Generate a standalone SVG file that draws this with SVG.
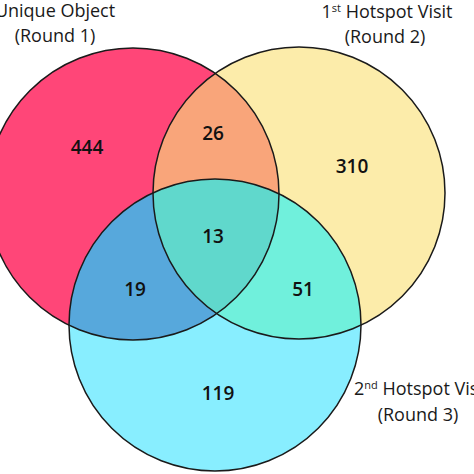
<svg xmlns="http://www.w3.org/2000/svg" width="474" height="474" viewBox="0 0 474 474">
<style>
.lbl{font-family:"Open Sans","Liberation Sans",sans-serif;font-size:18px;fill:#1a1a1a;text-anchor:middle}
.num{font-family:"Open Sans","Liberation Sans",sans-serif;font-size:19px;font-weight:600;fill:#111;text-anchor:middle}
.edge{fill:none;stroke:#1a1a1a;stroke-width:1.5}
</style>
<defs>
<clipPath id="cY"><circle cx="299" cy="193" r="146"/></clipPath>
<clipPath id="cC"><circle cx="215" cy="325" r="146"/></clipPath>
</defs>
<rect width="474" height="474" fill="#fff"/>
<g id="set-round1"><circle cx="133" cy="194" r="146" fill="#FF4678"/></g>
<g id="set-round2"><circle cx="299" cy="193" r="146" fill="#FCECAA"/></g>
<g id="set-round3"><circle cx="215" cy="325" r="146" fill="#88EEFF"/></g>
<g id="overlaps">
<circle cx="133" cy="194" r="146" fill="#F9A57A" clip-path="url(#cY)"/>
<circle cx="133" cy="194" r="146" fill="#57A8DC" clip-path="url(#cC)"/>
<circle cx="299" cy="193" r="146" fill="#70F0DC" clip-path="url(#cC)"/>
<g clip-path="url(#cC)"><circle cx="133" cy="194" r="146" fill="#60D8CC" clip-path="url(#cY)"/></g>
</g>
<g id="edges">
<circle class="edge" cx="133" cy="194" r="146"/>
<circle class="edge" cx="299" cy="193" r="146"/>
<circle class="edge" cx="215" cy="325" r="146"/>
</g>
<g id="labels">
<text class="lbl" x="55" y="17">Unique Object</text>
<text class="lbl" x="55" y="42">(Round 1)</text>
<text class="lbl" x="387" y="18">1<tspan font-size="11" dy="-6">st</tspan><tspan dy="6"> Hotspot Visit</tspan></text>
<text class="lbl" x="385" y="43">(Round 2)</text>
<text class="lbl" x="354" y="395" style="text-anchor:start">2<tspan font-size="11" dy="-6">nd</tspan><tspan dy="6"> Hotspot Visit</tspan></text>
<text class="lbl" x="418" y="421">(Round 3)</text>
</g>
<g id="counts">
<text class="num" x="87" y="154">444</text>
<text class="num" x="213" y="140">26</text>
<text class="num" x="352" y="173">310</text>
<text class="num" x="213" y="243">13</text>
<text class="num" x="135" y="296">19</text>
<text class="num" x="303" y="296">51</text>
<text class="num" x="218" y="400">119</text>
</g>
</svg>
